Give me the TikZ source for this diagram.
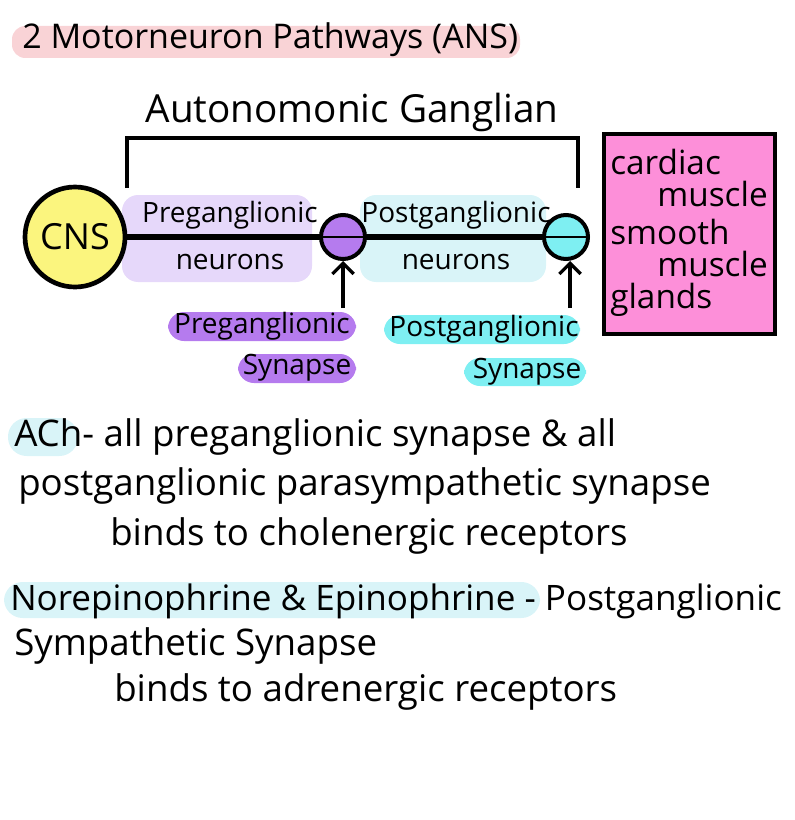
\documentclass[tikz,border=0pt]{standalone}
\usepackage{fontspec}
\usetikzlibrary{arrows.meta}
\setmainfont{Open Sans}
\definecolor{hlpink}{HTML}{F9D3D6}
\definecolor{hllav}{HTML}{E6D8FA}
\definecolor{hlcyan}{HTML}{D9F4F8}
\definecolor{purp}{HTML}{B57BEE}
\definecolor{cyn}{HTML}{7EEFF2}
\definecolor{cnsy}{HTML}{FBF57E}
\definecolor{pinkbox}{HTML}{FD8FD9}
\begin{document}
\begin{tikzpicture}[x=0.75pt,y=-0.75pt,
  txt/.style={font=\fontsize{25}{27}\selectfont,inner sep=0pt},
  sm/.style={font=\fontsize{21}{23}\selectfont,inner sep=0pt},
  big/.style={font=\fontsize{27.5}{30}\selectfont,inner sep=0pt,anchor=west},
  ln/.style={line width=4pt,line cap=round},
  arr/.style={line width=2.5pt,-{Straight Barb[length=8pt,width=16pt,line width=2.5pt]}}]
\useasboundingbox (0,0) rectangle (794,820);
% title
\fill[hlpink,rounded corners=10pt] (12,26) rectangle (520,58);
\node[txt,anchor=west,font=\fontsize{25.5}{27}\selectfont] (title) at (22,40) {2 Motorneuron Pathways (ANS)};
% bracket
\node[txt,font=\fontsize{29}{30}\selectfont] (ag) at (352,112) {Autonomonic Ganglian};
\coordinate (b1) at (127,188); \coordinate (b2) at (127,138);
\coordinate (b3) at (578,138); \coordinate (b4) at (578,188);
\draw[line width=3pt] (b1) -- (b2) -- (b3) -- (b4);
% highlights
\fill[hllav,rounded corners=12pt] (122,195) rectangle (312,282);
\fill[hlcyan,rounded corners=12pt] (360,195) rectangle (546,282);
% main line
\node[circle,draw,line width=3.5pt,fill=cnsy,minimum size=75pt,font=\fontsize{27}{28}\selectfont,inner sep=0pt] (cns) at (75,237) {CNS};
\node[circle,draw,line width=3pt,fill=purp,minimum size=33pt,inner sep=0pt] (s1) at (343,237) {};
\node[circle,draw,line width=3pt,fill=cyn,minimum size=33pt,inner sep=0pt] (s2) at (566,237) {};
\draw[ln] (cns) -- (s1);
\draw[ln] (s1) -- (s2);
\draw[line width=2pt] (s1.west) -- (s1.east);
\draw[line width=2pt] (s2.west) -- (s2.east);
\node[sm] (pn1) at (230,215) {Preganglionic};
\node[sm] (pn2) at (230,262) {neurons};
\node[sm] (qn1) at (456,215) {Postganglionic};
\node[sm] (qn2) at (456,262) {neurons};
% synapse labels
\fill[purp,rounded corners=12pt] (168,312) rectangle (356,341);
\fill[purp,rounded corners=12pt] (238,354) rectangle (356,383);
\fill[cyn,rounded corners=12pt] (384,315) rectangle (580,344);
\fill[cyn,rounded corners=12pt] (464,358) rectangle (586,386);
\node[sm] (ps1) at (262,326) {Preganglionic};
\node[sm] (ps2) at (297,368) {Synapse};
\node[sm] (qs1) at (484,329) {Postganglionic};
\node[sm] (qs2) at (527,372) {Synapse};
\coordinate (a1) at (343,308); \coordinate (a2) at (570,308);
\draw[arr] (a1) -- (s1.south);
\draw[arr] (a2) -- ([xshift=3pt]s2.south);
% pink box
\node[draw,line width=3pt,fill=pinkbox,minimum width=128pt,minimum height=150pt,anchor=north west,inner sep=0pt] (pb) at (602,132) {};
\node[txt,anchor=west] (c1) at (610,162) {cardiac};
\node[txt,anchor=east] (c2) at (768,194) {muscle};
\node[txt,anchor=west] (c3) at (610,232) {smooth};
\node[txt,anchor=east] (c4) at (768,264) {muscle};
\node[txt,anchor=west] (c5) at (610,300) {glands};
% text block
\fill[hlcyan,rounded corners=14pt] (8,418) rectangle (78,456);
\fill[hlcyan,rounded corners=14pt] (4,582) rectangle (540,618);
\node[big] (t1) at (14,437) {ACh- all preganglionic synapse \& all};
\node[big] (t2) at (18,486) {postganglionic parasympathetic synapse};
\node[big] (t3) at (110,536) {binds to cholenergic receptors};
\node[big,font=\fontsize{26.3}{28}\selectfont] (t4) at (10,601) {Norepinophrine \& Epinophrine - Postganglionic};
\node[big] (t5) at (14,646) {Sympathetic Synapse};
\node[big] (t6) at (114,692) {binds to adrenergic receptors};
\end{tikzpicture}
\end{document}
